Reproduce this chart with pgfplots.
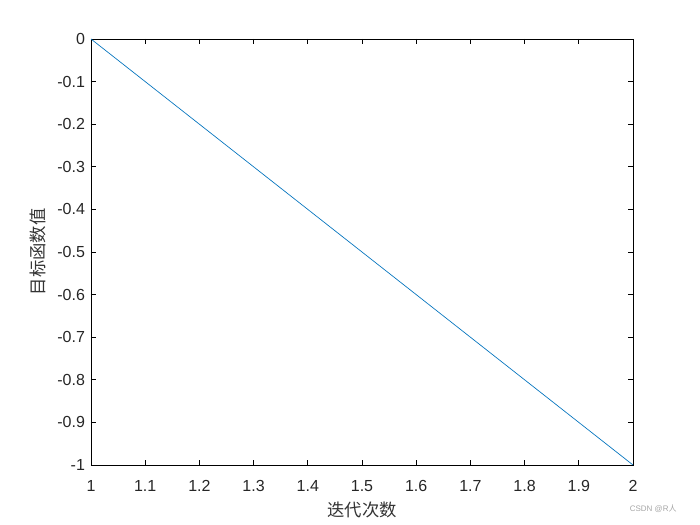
\documentclass[border=0pt]{standalone}
\usepackage{pgfplots}
\pgfplotsset{compat=1.18}
\usepackage{fontspec}
\setmainfont{Liberation Sans}
\newfontfamily\cjk{Noto Sans CJK SC}
\definecolor{mblue}{rgb}{0,0.447,0.741}
\begin{document}
\begin{tikzpicture}
\path[use as bounding box] (0,0) rectangle (525pt,393.75pt);
\begin{axis}[
  scale only axis,
  at={(68.25pt,45pt)}, anchor=south west,
  width=406.5pt, height=319.5pt,
  xmin=1, xmax=2, ymin=-1, ymax=0,
  xtick={1,1.1,...,2.01},
  ytick={-1,-0.9,...,0.01},
  tick align=inside,
  major tick length=4pt,
  tick style={black, line width=0.5pt},
  axis line style={line width=0.5pt},
  /pgf/number format/assume math mode=true,
  /pgf/number format/.cd, fixed, precision=1,
  /pgfplots/.cd,
  ticklabel style={font=\fontsize{12}{14}\selectfont, text=black!85},
  xticklabel style={yshift=-8pt},
  yticklabel style={xshift=-1pt},
  xlabel={\cjk 迭代次数},
  ylabel={\cjk 目标函数值},
  label style={font=\fontsize{13}{15}\selectfont, text=black!80},
  xlabel style={at={(axis description cs:0.5,-0.106)}, anchor=center},
  ylabel style={at={(axis description cs:-0.098,0.5)}, anchor=center},
]
\addplot[mblue, line width=0.5pt] coordinates {(1,0) (2,-1)};
\end{axis}
\node[anchor=base east, text=gray!70, font=\fontsize{6}{7}\selectfont] at (511pt,10pt) {CSDN @R{\cjk 人}};
\end{tikzpicture}
\end{document}
